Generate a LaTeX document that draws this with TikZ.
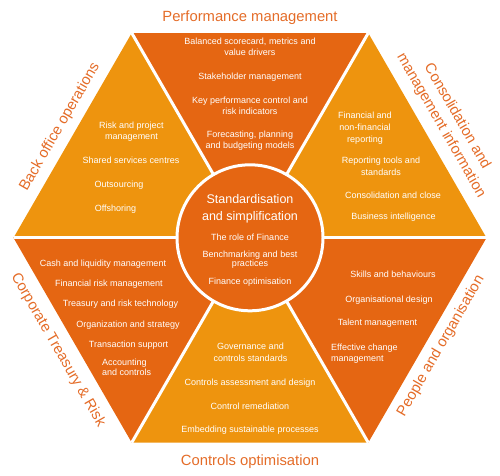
\documentclass[tikz,border=0pt]{standalone}
\usepackage{fontspec}
\setmainfont{Liberation Sans}
\definecolor{darkor}{RGB}{229,102,18}
\definecolor{lightor}{RGB}{238,148,14}
\definecolor{titleor}{RGB}{228,108,40}
\begin{document}
\begin{tikzpicture}[x=1pt,y=-1pt,
  item/.style={text=white,font=\fontsize{9}{11}\selectfont,align=center,inner sep=0pt,anchor=north},
  itemleft/.style={item,align=left,anchor=north west},
  sidelabel/.style={text=titleor,font=\fontsize{14.8}{18.5}\selectfont,align=center,inner sep=0pt},
  gap/.style={draw=white,line width=3pt}]
\useasboundingbox (0,0) rectangle (500,475);
% hexagon geometry
\coordinate (C) at (250,237.8);
\coordinate (R) at (486.5,237.8);
\coordinate (LR) at (368.25,442.6);
\coordinate (LL) at (131.75,442.6);
\coordinate (L) at (13.5,237.8);
\coordinate (UL) at (131.75,33.0);
\coordinate (UR) at (368.25,33.0);
% six segments
\fill[darkor] (C) -- (UL) -- (UR) -- cycle;
\fill[lightor] (C) -- (UR) -- (R) -- cycle;
\fill[darkor] (C) -- (R) -- (LR) -- cycle;
\fill[lightor] (C) -- (LR) -- (LL) -- cycle;
\fill[darkor] (C) -- (LL) -- (L) -- cycle;
\fill[lightor] (C) -- (L) -- (UL) -- cycle;
% white gaps
\draw[gap] (UL) -- (LR);
\draw[gap] (UR) -- (LL);
\draw[gap] (L) -- (R);
% centre circle
\node[circle,fill=darkor,draw=white,line width=3pt,minimum size=146pt,inner sep=0pt] (core) at (C) {};
% side labels
\node[sidelabel] (perf) at (250,18) {Performance management};
\node[sidelabel] (ctrl) at (250,462) {Controls optimisation};
\node[sidelabel,rotate=60] (back) at (60,127) {Back office operations};
\node[sidelabel,rotate=-60] (cons) at (449,121) {Consolidation and\\management information};
\node[sidelabel,rotate=60] (people) at (441,346) {People and organisation};
\node[sidelabel,rotate=-60] (treas) at (58,350) {Corporate Treasury \& Risk};
% centre texts
\node[item,font=\fontsize{12.5}{17}\selectfont] (stdt) at (250,194.5) {Standardisation\\and simplification};
\node[item] (c1) at (250,233.5) {The role of Finance};
\node[item,font=\fontsize{9}{9}\selectfont] (c2) at (250,250.5) {Benchmarking and best\\practices};
\node[item] (c3) at (250,277.5) {Finance optimisation};
% top
\node[item] (p1) at (250,38.2) {Balanced scorecard, metrics and\\value drivers};
\node[item] (p2) at (250,73.2) {Stakeholder management};
\node[item] (p3) at (250,96.5) {Key performance control and\\risk indicators};
\node[item] (p4) at (250,130.5) {Forecasting, planning\\and budgeting models};
% upper left
\node[item] (b1) at (131.5,121.5) {Risk and project\\management};
\node[item] (b2) at (131,156.5) {Shared services centres};
\node[item] (b3) at (119,180.5) {Outsourcing};
\node[item] (b4) at (115.5,204.5) {Offshoring};
% upper right
\node[item,font=\fontsize{9}{12}\selectfont] (m1) at (365,111.5) {Financial and\\non-financial\\reporting};
\node[item,font=\fontsize{9}{12}\selectfont] (m2) at (381,156.5) {Reporting tools and\\standards};
\node[item] (m3) at (393,191.5) {Consolidation and close};
\node[item] (m4) at (393.5,212.5) {Business intelligence};
% lower left
\node[item] (t1) at (103,259.5) {Cash and liquidity management};
\node[item] (t2) at (109,279.5) {Financial risk management};
\node[item] (t3) at (120.5,299.5) {Treasury and risk technology};
\node[item] (t4) at (128,320.5) {Organization and strategy};
\node[item] (t5) at (128.5,340.5) {Transaction support};
\node[itemleft,font=\fontsize{9}{10.5}\selectfont] (t6) at (102,358.5) {Accounting\\and controls};
% lower right
\node[item] (o1) at (393,270.5) {Skills and behaviours};
\node[item] (o2) at (389,295.5) {Organisational design};
\node[item] (o3) at (377.5,318.5) {Talent management};
\node[itemleft] (o4) at (331,343.5) {Effective change\\management};
% bottom
\node[item,font=\fontsize{9}{12}\selectfont] (g1) at (250.5,342.5) {Governance and\\controls standards};
\node[item] (g2) at (250,378.5) {Controls assessment and design};
\node[item] (g3) at (250,402.5) {Control remediation};
\node[item] (g4) at (250,425.5) {Embedding sustainable processes};
\end{tikzpicture}
\end{document}
